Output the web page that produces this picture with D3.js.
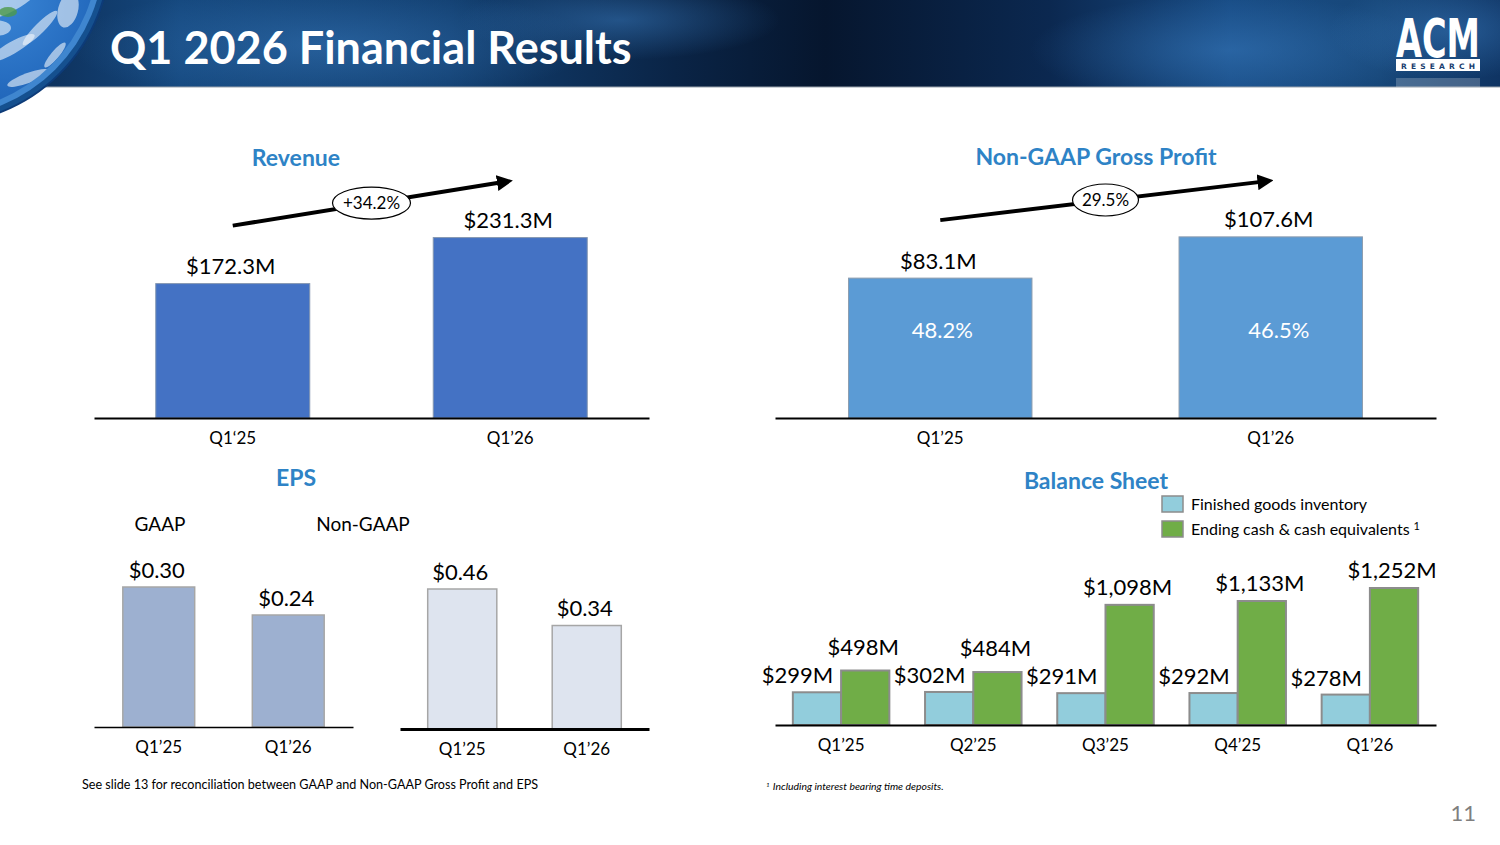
<!DOCTYPE html>
<html>
<head>
<meta charset="utf-8">
<script src="https://cdn.jsdelivr.net/npm/d3@7"></script>
<style>
  body { margin: 0; background: #fff; }
  svg { display: block; font-family: Lato, "Noto Sans", sans-serif; }
</style>
</head>
<body>
<div id="slide"></div>
<script>
// Données du slide
const slideTitle = "Q1 2026 Financial Results";

const revQuarters = ["Q1‘25", "Q1’26"];
const revValues = [172.3, 231.3];
const revGrowth = "+34.2%";

const gpQuarters = ["Q1’25", "Q1’26"];
const gpValues = [83.1, 107.6];
const gpMargins = ["48.2%", "46.5%"];
const gpGrowth = "29.5%";

const epsQuarters = ["Q1’25", "Q1’26"];
const gaapEps = [0.30, 0.24];
const nonGaapEps = [0.46, 0.34];

const bsQuarters = ["Q1’25", "Q2’25", "Q3’25", "Q4’25", "Q1’26"];
const inventory = [299, 302, 291, 292, 278];
const cash = [498, 484, 1098, 1133, 1252];
const bsSeries = ["Finished goods inventory", "Ending cash & cash equivalents"];

const footLeft = "See slide 13 for reconciliation between GAAP and Non-GAAP Gross Profit and EPS";
const footRight = "Including interest bearing time deposits.";
const pageNumber = "11";

const width = 1500, height = 845;
const titleBlue = "#2E83C6";
const fmtM = d3.format(",");

const svg = d3.select("#slide").append("svg")
    .attr("width", width)
    .attr("height", height);

const defs = svg.append("defs");

// ---- en-tête (fond spatial)
const bg = defs.append("linearGradient").attr("id", "hdr");
[["0%", "#0b2a52"], ["12%", "#15487e"], ["30%", "#123f70"], ["45%", "#0a2446"],
 ["55%", "#06162e"], ["70%", "#0b2850"], ["82%", "#184c85"], ["92%", "#174779"], ["100%", "#0f3463"]]
    .forEach(s => bg.append("stop").attr("offset", s[0]).attr("stop-color", s[1]));

const glow = defs.append("radialGradient").attr("id", "glow");
glow.append("stop").attr("offset", "0%").attr("stop-color", "#3a7cc0").attr("stop-opacity", 0.5);
glow.append("stop").attr("offset", "100%").attr("stop-color", "#3a7cc0").attr("stop-opacity", 0);

const earth = defs.append("radialGradient").attr("id", "earth")
    .attr("cx", "70%").attr("cy", "65%").attr("r", "60%");
earth.append("stop").attr("offset", "0%").attr("stop-color", "#3a86d6");
earth.append("stop").attr("offset", "65%").attr("stop-color", "#1b5fb4");
earth.append("stop").attr("offset", "100%").attr("stop-color", "#0c3b80");

defs.append("clipPath").attr("id", "hdrClip")
    .append("rect").attr("width", width).attr("height", 87);
defs.append("clipPath").attr("id", "globeClip")
    .append("circle").attr("cx", -62).attr("cy", -48).attr("r", 160);

const header = svg.append("g");
const sky = header.append("g").attr("clip-path", "url(#hdrClip)");
sky.append("rect").attr("width", width).attr("height", 87).attr("fill", "url(#hdr)");
[[330, 45, 260, 60], [620, 20, 160, 40], [1230, 50, 200, 55], [1450, 30, 120, 50]].forEach(g => {
    sky.append("ellipse").attr("cx", g[0]).attr("cy", g[1]).attr("rx", g[2]).attr("ry", g[3])
        .attr("fill", "url(#glow)");
});
header.append("line").attr("x1", 0).attr("x2", width).attr("y1", 87).attr("y2", 87)
    .attr("stroke", "#9aa3ad").attr("stroke-width", 1);

// globe
header.append("circle").attr("cx", -62).attr("cy", -48).attr("r", 172)
    .attr("fill", "#15508f");
header.append("circle").attr("cx", -62).attr("cy", -48).attr("r", 166)
    .attr("fill", "#3f86cf");
header.append("circle").attr("cx", -62).attr("cy", -48).attr("r", 160)
    .attr("fill", "url(#earth)");
const clouds = header.append("g").attr("clip-path", "url(#globeClip)");
[[5, 5, 34, 9, -25], [40, 28, 24, 5, -45], [12, 48, 26, 6, -30], [68, 10, 10, 18, 15],
 [28, 78, 22, 5, -20], [-5, 28, 16, 8, 0], [55, 55, 16, 4, -50]].forEach(c => {
    clouds.append("ellipse").attr("cx", c[0]).attr("cy", c[1]).attr("rx", c[2]).attr("ry", c[3])
        .attr("transform", `rotate(${c[4]},${c[0]},${c[1]})`)
        .attr("fill", "#f2f7fc").attr("opacity", 0.6);
});
clouds.append("ellipse").attr("cx", 8).attr("cy", 12).attr("rx", 9).attr("ry", 5)
    .attr("fill", "#4e9a4a").attr("opacity", 0.8);
header.append("circle").attr("cx", -62).attr("cy", -48).attr("r", 172)
    .attr("fill", "none").attr("stroke", "#0d3b78").attr("stroke-width", 2);

header.append("text")
    .attr("x", 110).attr("y", 64)
    .attr("fill", "#fff")
    .style("font-size", "45px").style("font-weight", "bold")
    .text(slideTitle);

// logo
header.append("text")
    .attr("transform", "translate(1396,57) scale(1,1.42)")
    .attr("textLength", 84).attr("lengthAdjust", "spacingAndGlyphs")
    .attr("fill", "#fff")
    .style("font-family", "'DejaVu Sans Condensed', 'DejaVu Sans', sans-serif")
    .style("font-size", "38px").style("font-weight", "bold")
    .text("ACM");
header.append("rect").attr("x", 1396).attr("y", 59).attr("width", 84).attr("height", 12).attr("fill", "#fff");
header.append("text")
    .attr("x", 1401).attr("y", 68.5)
    .attr("textLength", 74).attr("lengthAdjust", "spacing")
    .attr("fill", "#173d6e")
    .style("font-family", "'DejaVu Sans', sans-serif")
    .style("font-size", "7.5px").style("font-weight", "bold")
    .text("RESEARCH");
header.append("rect").attr("x", 1396).attr("y", 78).attr("width", 84).attr("height", 9)
    .attr("fill", "#fff").attr("opacity", 0.22);

// flèche
defs.append("marker")
    .attr("id", "arrow")
    .attr("viewBox", "0 0 10 10")
    .attr("refX", 2).attr("refY", 5)
    .attr("markerWidth", 4).attr("markerHeight", 4)
    .attr("orient", "auto")
    .append("path").attr("d", "M0,0L10,5L0,10z").attr("fill", "#000");

// ---- fonctions communes
function sectionTitle(text, x, y) {
    svg.append("text")
        .attr("x", x).attr("y", y)
        .attr("text-anchor", "middle")
        .attr("fill", titleBlue)
        .style("font-size", "23px").style("font-weight", "bold")
        .text(text);
}

function bottomAxis(x, y0, strokeW) {
    const g = svg.append("g")
        .attr("transform", `translate(0,${y0})`)
        .call(d3.axisBottom(x).tickSize(0).tickPadding(14));
    g.select(".domain").attr("stroke", "#000").attr("stroke-width", strokeW);
    g.selectAll("text")
        .attr("fill", "#000")
        .style("font-family", "Lato, sans-serif")
        .style("font-size", "17px");
    return g;
}

function simpleBars(opts) {
    const x = d3.scaleBand().domain(opts.cats).range(opts.xr)
        .paddingInner(0.445).paddingOuter(0.2225);
    const y = d3.scaleLinear().domain(opts.yd).range(opts.yr);
    const data = opts.cats.map((c, i) => ({ c: c, v: opts.values[i], i: i }));

    svg.append("g").selectAll("rect")
        .data(data)
        .join("rect")
        .attr("x", d => x(d.c))
        .attr("y", d => y(d.v))
        .attr("width", x.bandwidth())
        .attr("height", d => y(0) - y(d.v))
        .attr("fill", opts.fill)
        .attr("stroke", opts.stroke)
        .attr("stroke-width", opts.strokeW);

    svg.append("g").selectAll("text")
        .data(data)
        .join("text")
        .attr("x", d => x(d.c) + x.bandwidth() / 2 - 2)
        .attr("y", d => y(d.v) - 9.5)
        .attr("text-anchor", "middle")
        .attr("fill", "#000")
        .style("font-size", "22px")
        .text(d => opts.label(d.v));

    bottomAxis(x, y(0), opts.axisW);
    return { x, y, data };
}

function growthArrow(chart, text, rx) {
    const { x, y, data } = chart;
    const p0 = [x(data[0].c) + x.bandwidth() / 2, y(data[0].v) - 58];
    const p1 = [x(data[1].c) + x.bandwidth() / 2 - 10, y(data[1].v) - 55];
    svg.append("line")
        .attr("x1", p0[0]).attr("y1", p0[1])
        .attr("x2", p1[0]).attr("y2", p1[1])
        .attr("stroke", "#000").attr("stroke-width", 4)
        .attr("marker-end", "url(#arrow)");
    const mx = (p0[0] + p1[0] + 10) / 2, my = (p0[1] + p1[1]) / 2 - 1;
    svg.append("ellipse")
        .attr("cx", mx).attr("cy", my).attr("rx", rx).attr("ry", 16)
        .attr("fill", "#fff").attr("stroke", "#000").attr("stroke-width", 1.2);
    svg.append("text")
        .attr("x", mx).attr("y", my + 6)
        .attr("text-anchor", "middle")
        .style("font-size", "17px")
        .text(text);
}

// ---- Revenue
sectionTitle("Revenue", 296, 166);
const rev = simpleBars({
    cats: revQuarters, values: revValues,
    xr: [94, 649], yd: [0, 250], yr: [418, 223],
    fill: "#4472C4", stroke: "#8497b0", strokeW: 1, axisW: 2.2,
    label: v => "$" + v.toFixed(1) + "M"
});
growthArrow(rev, revGrowth, 39);

// ---- Non-GAAP Gross Profit
sectionTitle("Non-GAAP Gross Profit", 1096, 165);
const gp = simpleBars({
    cats: gpQuarters, values: gpValues,
    xr: [775, 1436], yd: [0, 120], yr: [418, 216],
    fill: "#5B9BD5", stroke: "#8c9cae", strokeW: 1, axisW: 2.2,
    label: v => "$" + v.toFixed(1) + "M"
});
growthArrow(gp, gpGrowth, 33);
svg.append("g").selectAll("text")
    .data(gp.data)
    .join("text")
    .attr("x", d => gp.x(d.c) + gp.x.bandwidth() / 2 + (d.i ? 8 : 2))
    .attr("y", gp.y(0) - 80)
    .attr("text-anchor", "middle")
    .attr("fill", "#fff")
    .style("font-size", "22px")
    .text(d => gpMargins[d.i]);

// ---- EPS
sectionTitle("EPS", 296, 486);
svg.append("text").attr("x", 160).attr("y", 531).attr("text-anchor", "middle")
    .style("font-size", "19px").text("GAAP");
svg.append("text").attr("x", 363).attr("y", 531).attr("text-anchor", "middle")
    .style("font-size", "19px").text("Non-GAAP");

simpleBars({
    cats: epsQuarters, values: gaapEps,
    xr: [94, 353], yd: [0, 0.30], yr: [727, 587],
    fill: "#9DB0D0", stroke: "#a6a6a6", strokeW: 1.5, axisW: 1.5,
    label: v => "$" + v.toFixed(2)
});
simpleBars({
    cats: epsQuarters, values: nonGaapEps,
    xr: [400, 649], yd: [0, 0.46], yr: [729, 589],
    fill: "#DEE4EF", stroke: "#a6a6a6", strokeW: 1.5, axisW: 3,
    label: v => "$" + v.toFixed(2)
});

// ---- Balance Sheet
sectionTitle("Balance Sheet", 1096, 489);
const bsColors = d3.scaleOrdinal().domain(bsSeries).range(["#92CDDC", "#70AD47"]);

const legend = svg.append("g").selectAll("g")
    .data(bsSeries)
    .join("g")
    .attr("transform", (d, i) => `translate(1162,${496 + i * 25})`);
legend.append("rect")
    .attr("width", 21).attr("height", 16)
    .attr("fill", d => bsColors(d))
    .attr("stroke", "#8c8c8c").attr("stroke-width", 1.5);
const legText = legend.append("text")
    .attr("x", 29).attr("y", 14)
    .style("font-size", "16px")
    .text(d => d);
legText.filter((d, i) => i === 1).append("tspan")
    .attr("dx", 4).attr("dy", -5)
    .style("font-size", "11px")
    .text("1");

const x0 = d3.scaleBand().domain(bsQuarters).range([775, 1436])
    .paddingInner(0.27).paddingOuter(0.135);
const x1 = d3.scaleBand().domain(bsSeries).range([0, x0.bandwidth()]);
const yBs = d3.scaleLinear().domain([0, 1252]).range([725, 588]);

const bsData = bsQuarters.map((q, i) => ({
    q: q,
    vals: [{ s: bsSeries[0], v: inventory[i] }, { s: bsSeries[1], v: cash[i] }]
}));

const groups = svg.append("g").selectAll("g")
    .data(bsData)
    .join("g")
    .attr("transform", d => `translate(${x0(d.q)},0)`);

groups.selectAll("rect")
    .data(d => d.vals)
    .join("rect")
    .attr("x", d => x1(d.s))
    .attr("y", d => yBs(d.v))
    .attr("width", x1.bandwidth())
    .attr("height", d => yBs(0) - yBs(d.v))
    .attr("fill", d => bsColors(d.s))
    .attr("stroke", "#8c8c8c")
    .attr("stroke-width", 2);

// étiquettes : stock à gauche de la barre, trésorerie au-dessus
groups.append("text")
    .attr("x", d => x1(bsSeries[0]) + x1.bandwidth() - 8)
    .attr("y", d => yBs(d.vals[0].v) - 9)
    .attr("text-anchor", "end")
    .style("font-size", "22px")
    .text(d => "$" + fmtM(d.vals[0].v) + "M");
groups.append("text")
    .attr("x", d => x1(bsSeries[1]) + x1.bandwidth() / 2 - 2)
    .attr("y", d => yBs(d.vals[1].v) - (d.vals[1].v < 800 ? 16 : 10))
    .attr("text-anchor", "middle")
    .style("font-size", "22px")
    .text(d => "$" + fmtM(d.vals[1].v) + "M");

bottomAxis(x0, 725, 2.2);

// ---- notes
svg.append("text").attr("x", 82).attr("y", 789)
    .style("font-size", "12.6px")
    .text(footLeft);
const fn = svg.append("text").attr("x", 766).attr("y", 790)
    .style("font-size", "10.4px").style("font-style", "italic");
fn.append("tspan").attr("dy", -3).style("font-size", "6.5px").text("1");
fn.append("tspan").attr("dx", 3).attr("dy", 3).text(footRight);

svg.append("text").attr("x", 1476).attr("y", 821)
    .attr("text-anchor", "end")
    .attr("fill", "#7f7f7f")
    .style("font-size", "22px")
    .text(pageNumber);
</script>
</body>
</html>
